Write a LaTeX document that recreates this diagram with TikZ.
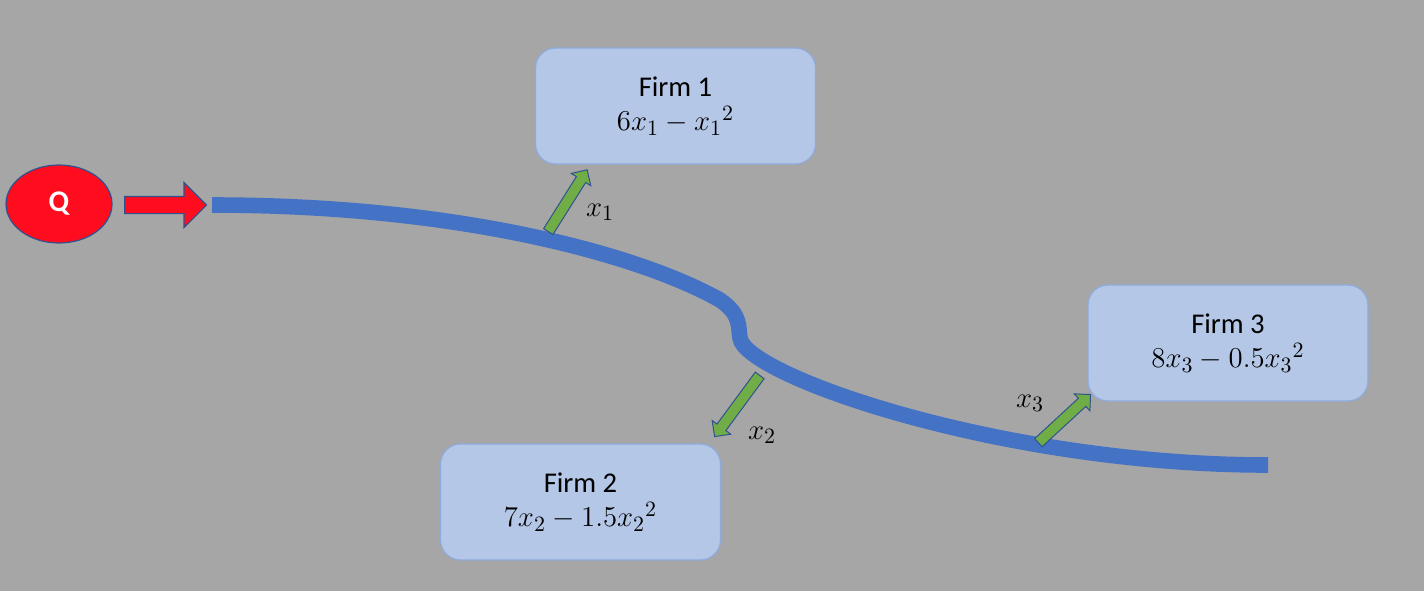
\documentclass[tikz,border=0pt]{standalone}
\usepackage{fontspec}
\setmainfont{Carlito}
\usetikzlibrary{shapes.geometric,shapes.arrows}
\definecolor{bggray}{RGB}{166,166,166}
\definecolor{firmfill}{RGB}{180,199,231}
\definecolor{firmline}{RGB}{143,170,220}
\definecolor{pipeblue}{RGB}{68,114,196}
\definecolor{flowgreen}{RGB}{112,173,71}
\definecolor{edgeblue}{RGB}{47,82,143}
\definecolor{srcred}{RGB}{255,12,30}
\newcommand\firmmath[1]{{\fontsize{15.5}{17}\selectfont$#1$}}
\begin{document}
\begin{tikzpicture}
  [x=0.5pt,y=-0.5pt,
   firm/.style={draw=firmline,fill=firmfill,line width=0.6pt,rounded corners=10pt,
     minimum width=140pt,minimum height=58pt,align=center,
     font=\fontsize{14.3}{17}\selectfont},
   flow/.style={single arrow,draw=edgeblue,fill=flowgreen,line width=0.5pt,
     inner sep=0pt,inner ysep=2.5pt,single arrow head extend=3pt,anchor=tail},
   lbl/.style={font=\fontsize{15.5}{18}\selectfont}]
  \fill[bggray] (0,0) rectangle (1424,591);
  \useasboundingbox (0,0) rectangle (1424,591);

  \node[ellipse,draw=edgeblue,fill=srcred,line width=0.6pt,minimum width=53pt,
    minimum height=39pt,text=white,font=\fontsize{15}{18}\selectfont\bfseries]
    (Q) at (59,204) {Q};
  \node[single arrow,draw=edgeblue,fill=srcred,line width=0.6pt,inner sep=0pt,
    inner ysep=4pt,single arrow head extend=7pt,minimum height=41pt,anchor=tail]
    (in) at (124,205) {};

  \node[firm] (F1) at (675.5,106) {Firm 1\\\firmmath{6x_1-{x_1}^2}};
  \node[firm] (F2) at (580.5,502) {Firm 2\\\firmmath{7x_2-1.5{x_2}^2}};
  \node[firm] (F3) at (1228,343) {Firm 3\\\firmmath{8x_3-0.5{x_3}^2}};

  \draw[pipeblue,line width=7.8pt]
    (212,205) .. controls (460,205) and (640,255) .. (720,300)
    .. controls (742,315) and (738,328) .. (740,338)
    .. controls (745,375) and (1000,465) .. (1268,465);

  \node[flow,minimum height=36.5pt,rotate=57.8] (a1) at (548,232) {};
  \node[flow,minimum height=38pt,rotate=233.6] (a2) at (760,375) {};
  \node[flow,minimum height=35.5pt,rotate=42.7] (a3) at (1038,443) {};

  \node[lbl] (l1) at (600,212) {$x_1$};
  \node[lbl] (l2) at (762,435) {$x_2$};
  \node[lbl] (l3) at (1030,403) {$x_3$};
\end{tikzpicture}
\end{document}
